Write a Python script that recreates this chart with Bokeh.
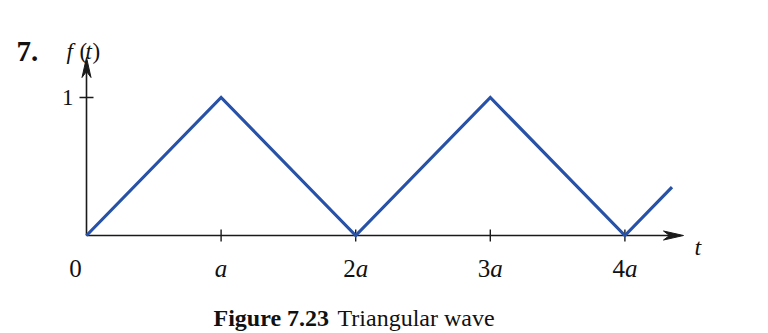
from bokeh.plotting import figure
from bokeh.models import Range1d
from bokeh.core.properties import value
from bokeh.embed import file_html
from bokeh.resources import INLINE

# ---- data ----
t_vals = [0, 1, 2, 3, 4, 4.35]
f_vals = [0, 1, 0, 1, 0, 0.35]
x_tick_t = [1, 2, 3, 4]
x_tick_coef = ["", "2", "3", "4"]
x_tick_sym = ["a", "a", "a", "a"]
y_tick_f = [1]
y_tick_labels = ["1"]

# ---- layout (pixel mapping) ----
W, H = 768, 333
X0, SX = 86.0, 134.6     # pixel of t=0, pixels per unit t
Y0, SY = 235.0, 138.0    # pixel of f=0, pixels per unit f

def dx(px):
    return (px - X0) / SX

def dy(py):
    return (Y0 - py) / SY

p = figure(width=W, height=H, output_backend="svg", toolbar_location=None,
           x_range=Range1d(dx(0), dx(W)), y_range=Range1d(dy(H), dy(0)),
           min_border=0, min_border_left=0, min_border_right=0,
           min_border_top=0, min_border_bottom=0)
p.xaxis.visible = False
p.yaxis.visible = False
p.grid.visible = False
p.outline_line_color = None
p.background_fill_color = "white"
p.border_fill_color = "white"

AX = "#1a1a1a"
TXT = "#111111"
SERIF = value("Liberation Serif")

# axes lines
x_tip = dx(683)
y_tip = dy(57)
L, HW = 20, 4.5
p.segment(x0=[0], y0=[0], x1=[x_tip - 0.7 * L / SX], y1=[0], line_color=AX, line_width=1.6)
p.segment(x0=[0], y0=[0], x1=[0], y1=[y_tip - 0.7 * L / SY], line_color=AX, line_width=1.6)

# stealth arrow heads
p.patch(x=[x_tip, x_tip - L / SX, x_tip - 0.7 * L / SX, x_tip - L / SX],
        y=[0, HW / SY, 0, -HW / SY], fill_color=AX, line_color=AX, line_width=1)
p.patch(x=[0, HW / SX, 0, -HW / SX],
        y=[y_tip, y_tip - L / SY, y_tip - 0.7 * L / SY, y_tip - L / SY],
        fill_color=AX, line_color=AX, line_width=1)

# ticks
p.segment(x0=x_tick_t, y0=[6 / SY] * len(x_tick_t), x1=x_tick_t, y1=[-6 / SY] * len(x_tick_t),
          line_color=AX, line_width=1.4)
p.segment(x0=[-7 / SX] * len(y_tick_f), y0=y_tick_f, x1=[7 / SX] * len(y_tick_f), y1=y_tick_f,
          line_color=AX, line_width=1.4)

# the wave
p.line(t_vals, f_vals, line_color="#2752a8", line_width=3.2, line_join="miter")

# tick labels
base = dy(268)
p.text(x=[dx(75)], y=[base], text=["0"], text_font=SERIF, text_font_size="25px",
       text_align="center", text_baseline="alphabetic", text_color=TXT)
coef_t = [t for t, c in zip(x_tick_t, x_tick_coef) if c]
coef_s = [c for c in x_tick_coef if c]
p.text(x=coef_t, y=[base] * len(coef_t), text=coef_s, text_font=SERIF, text_font_size="25px",
       text_align="right", text_baseline="alphabetic", text_color=TXT)
sym_center = [t for t, c in zip(x_tick_t, x_tick_coef) if not c]
sym_left = [t for t, c in zip(x_tick_t, x_tick_coef) if c]
p.text(x=sym_center, y=[base] * len(sym_center),
       text=[s for s, c in zip(x_tick_sym, x_tick_coef) if not c],
       text_font=SERIF, text_font_size="25px", text_font_style="italic",
       text_align="center", text_baseline="alphabetic", text_color=TXT)
p.text(x=sym_left, y=[base] * len(sym_left),
       text=[s for s, c in zip(x_tick_sym, x_tick_coef) if c],
       text_font=SERIF, text_font_size="25px", text_font_style="italic",
       text_align="left", text_baseline="alphabetic", text_color=TXT)
p.text(x=[dx(73)] * len(y_tick_f), y=y_tick_f, text=y_tick_labels, text_font=SERIF,
       text_font_size="23px", text_align="right", text_baseline="middle", text_color=TXT)

# axis names
p.text(x=[dx(694)], y=[dy(246)], text=["t"], text_font=SERIF, text_font_size="24px",
       text_font_style="italic", text_align="left", text_baseline="alphabetic", text_color=TXT)
fb = dy(51)
p.text(x=[dx(66), dx(85)], y=[fb, fb], text=["f", "t"], text_font=SERIF, text_font_size="23px",
       text_font_style="italic", text_align="left", text_baseline="alphabetic", text_color=TXT)
p.text(x=[dx(79), dx(92)], y=[fb, fb], text=["(", ")"], text_font=SERIF, text_font_size="23px",
       text_align="left", text_baseline="alphabetic", text_color=TXT)

# problem number
p.text(x=[dx(16)], y=[dy(51)], text=["7."], text_font=SERIF, text_font_size="29px",
       text_font_style="bold", text_align="left", text_baseline="alphabetic", text_color=TXT)

# caption
cb = dy(317)
p.text(x=[dx(213)], y=[cb], text=["Figure 7.23"], text_font=SERIF, text_font_size="24px",
       text_font_style="bold", text_align="left", text_baseline="alphabetic", text_color=TXT)
p.text(x=[dx(337)], y=[cb], text=["Triangular wave"], text_font=SERIF, text_font_size="24px",
       text_align="left", text_baseline="alphabetic", text_color=TXT)

open("out.html", "w").write(file_html(p, INLINE))
